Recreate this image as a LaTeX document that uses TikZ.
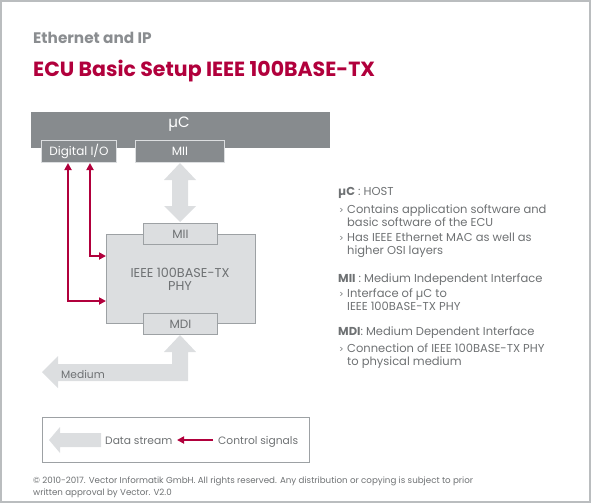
\documentclass[tikz,border=0pt]{standalone}
\usepackage{fontspec}
\setmainfont{Poppins}
\usetikzlibrary{positioning,arrows.meta}
\definecolor{vred}{HTML}{B1003C}
\definecolor{vdark}{HTML}{878B8E}
\definecolor{vlight}{HTML}{DCDEE0}
\definecolor{vframe}{HTML}{9DA1A4}
\definecolor{vtext}{HTML}{6E7173}
\definecolor{vhead}{HTML}{8A8D90}

\begin{document}
\begin{tikzpicture}[x=1pt,y=-1pt,
	darkbox/.style={fill=vdark, draw=vlight, line width=1pt, text=white,
	inner sep=0pt, anchor=north west, font=\fontsize{12}{13}\selectfont},
	lightbox/.style={fill=vlight, draw=vframe, line width=1pt, text=vtext,
	inner sep=0pt, anchor=north west, font=\fontsize{12}{13}\selectfont},
	ctrl/.style={vred, line width=1.8pt, {Triangle[length=7pt,width=7pt]}-{Triangle[length=7pt,width=7pt]}},
	info/.style={anchor=base west, inner sep=0pt, text=vtext,
	font=\fontsize{11.5}{12}\selectfont},
	bul/.style={anchor=base west, inner sep=0pt, text=vtext, font=\fontsize{8.5}{9}\selectfont},
	label/.style={anchor=base west, inner sep=0pt, text=vtext, font=\fontsize{10.7}{12}\selectfont}
	]
	\useasboundingbox (0,0) rectangle (591,503);
	\draw[vframe!70, line width=1.5pt] (1,1) rectangle (590,502);
	% headline
	\node[anchor=base west, inner sep=0pt, text=vhead, font=\fontsize{15.3}{16}\selectfont\bfseries] (topic) at (33,44) {Ethernet and IP};
	\node[anchor=base west, inner sep=0pt, text=vred, font=\fontsize{20.5}{22}\selectfont\bfseries] (title) at (33,77) {ECU Basic Setup IEEE 100BASE-TX};
	% host
	\draw(30,111)node[darkbox, minimum width=299pt, minimum height=36pt, draw=none] (uc) {};
	\node[text=white, font=\fontsize{15}{16}\selectfont] at (179,124) {µC};
	\draw(41,140)node[darkbox, minimum width=75pt, minimum height=22pt] (dio) {Digital I/O};
	\draw(135,140)node[darkbox, minimum width=89pt, minimum height=22pt] (miiuc) {MII};
	% phy
	\draw(106,234)node[lightbox, minimum width=149pt, minimum height=89pt] (phy) {};
	\node[text=vtext, align=center, font=\fontsize{12.8}{13}\selectfont] at (180,279) {IEEE 100BASE-TX\\PHY};
	\draw(143,223)node[lightbox, minimum width=74pt, minimum height=21pt] (miiphy) {MII};
	\draw(143,313)node[lightbox, minimum width=74pt, minimum height=21pt] (mdi) {MDI};
	% data streams
	\fill[vlight] (180,163) -- (196,180) -- (188,180) -- (188,206) -- (196,206) -- (180,222)
	-- (164,206) -- (172,206) -- (172,180) -- (164,180) -- cycle;
	\fill[vlight] (180,335) -- (196,352) -- (188,352) -- (188,381) -- (58,381) -- (58,388)
	-- (42,372) -- (58,356) -- (58,364) -- (172,364) -- (172,352) -- (164,352) -- cycle;
	\node[label] (medium) at (61,378) {Medium};
	% control signals
	\coordinate (c1) at (68,301);
	\coordinate (c2) at (90,256);
	\draw[ctrl] (dio.south -| c1) -- (c1) -- (c1 -| phy.west);
	\draw[ctrl] (dio.south -| c2) -- (c2) -- (c2 -| phy.west);
	% legend
	\draw[vframe, line width=1pt] (42,417) rectangle (309,462);
	\fill[vlight] (49,440) -- (60,427) -- (60,433) -- (101,433) -- (101,447) -- (60,447) -- (60,453) -- cycle;
	\node[label] (data) at (105,444) {Data stream};
	\node[label] (signals) at (218,444) {Control signals};
	\coordinate (s0) at (213,440);
	\coordinate (s1) at (177,440);
	\draw[vred, line width=1.8pt, -{Triangle[length=7pt,width=7pt]}] (s0) -- (s1);
	% description
	\node[info] (h1) at (338,195) {\textbf{µC} : HOST};
	\node[bul] at (339,213) {>};
	\node[info] at (347,213) {Contains application software and};
	\node[info] at (347,226) {basic software of the ECU};
	\node[bul] at (339,241) {>};
	\node[info] at (347,241) {Has IEEE Ethernet MAC as well as};
	\node[info] at (347,254) {higher OSI layers};
	\node[info] (h2) at (338,282) {\textbf{MII} : Medium Independent Interface};
	\node[bul] at (339,297) {>};
	\node[info] at (347,297) {Interface of µC to};
	\node[info] at (347,310) {IEEE 100BASE-TX PHY};
	\node[info] (h3) at (338,335) {\textbf{MDI}: Medium Dependent Interface};
	\node[bul] at (339,352) {>};
	\node[info] at (347,352) {Connection of IEEE 100BASE-TX PHY};
	\node[info] at (347,365) {to physical medium};
	% footer
	\node[anchor=base west, inner sep=0pt, text=vtext, font=\fontsize{8.7}{11}\selectfont] (copy1) at (33,483) {© 2010-2017. Vector Informatik GmbH. All rights reserved. Any distribution or copying is subject to prior};
	\node[anchor=base west, inner sep=0pt, text=vtext, font=\fontsize{8.7}{11}\selectfont] (copy2) at (33,495) {written approval by Vector. V2.0};
\end{tikzpicture}
\end{document}
